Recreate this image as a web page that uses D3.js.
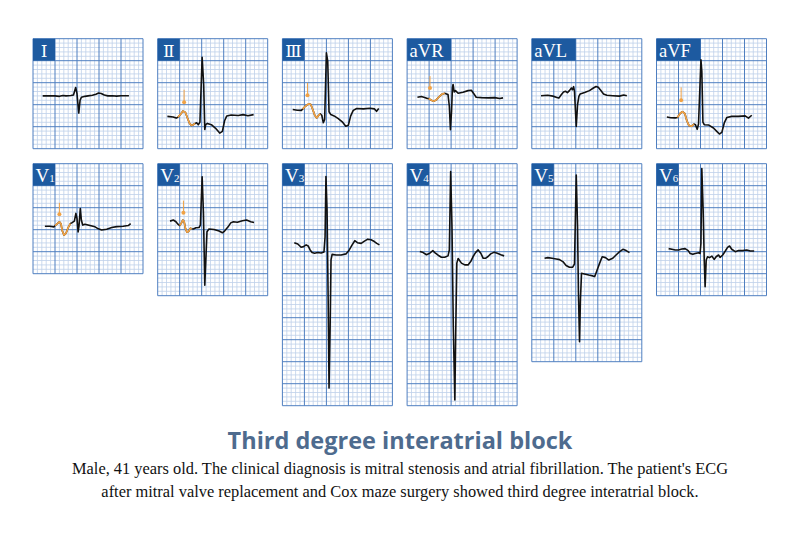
<!DOCTYPE html>
<html><head><meta charset="utf-8">
<script src="https://cdn.jsdelivr.net/npm/d3@7"></script>
<style>body{margin:0;background:#fff}svg{display:block}</style>
</head><body>
<svg id="c" width="800" height="534"></svg>
<script>
// ---- data (x: small grid boxes from panel left, y: amplitude in small boxes, up positive)
const leadNames = ["I","II","III","aVR","aVL","aVF","V1","V2","V3","V4","V5","V6"];
const panelRows = [5,5,5,5,5,5,5,6,11,11,9,6]; // major cells tall
const baselines = [13,17.65,16.1,13.3,12.95,17.8,14.2,13.2,20.2,21.1,23.4,20]; // small boxes from top

const leadI = [[2.2,0],[4,0.05],[5,0],[6,-0.1],[6.8,0.1],[7.5,0],[8.6,0.1],[9.2,0.2],[9.7,1.9],[10.0,0.5],[10.4,-3.9],[10.7,-1.0],[11.0,-0.3],[11.8,-0.1],[12.5,0],[13.5,0.15],[14.3,0.4],[14.9,0.65],[15.5,0.55],[16.2,0.2],[17.0,0],[18,0.05],[19,-0.05],[20,0.05],[21.8,0.05]];
const leadII = [[2.2,0],[3.5,-0.15],[4.2,-0.4],[4.6,-0.2],[5.2,0.5],[5.75,1.2],[6.3,0.9],[6.7,-0.2],[7.2,-1.5],[7.65,-2.05],[8.1,-1.9],[8.5,-1.6],[8.85,-1.45],[9.25,-1.9],[9.6,-1.3],[10.1,13.4],[10.45,7.2],[10.7,-3.0],[10.9,-1.9],[11.3,-1.6],[12.2,-1.9],[13.1,-2.65],[14.1,-3.8],[14.7,-3.4],[15.2,-1.0],[15.7,0.1],[16.7,0.3],[18.3,0.2],[19.4,0.4],[20.5,0.15],[21.8,0.4]];
const leadIII = [[2.35,0],[3.4,-0.15],[4.3,-0.2],[4.6,0.1],[5.2,0.75],[6.0,1.3],[6.45,1.15],[6.9,0],[7.35,-1.3],[7.8,-1.9],[8.25,-1.3],[8.6,-1.0],[8.95,-1.3],[9.3,-3.0],[9.6,-2.3],[10.0,12.9],[10.3,11.0],[10.6,-0.5],[11.0,-1.15],[11.75,-1.45],[12.7,-2.05],[13.6,-2.8],[14.4,-3.8],[15.0,-3.55],[15.5,-1.5],[16.1,-0.2],[16.9,0.25],[18.4,0.15],[19.9,0.3],[20.9,0.15],[21.4,-0.4],[21.9,0.25]];
const leadAVR = [[2.35,0],[3.25,0.15],[4.15,-0.1],[4.6,-0.3],[4.9,-0.3],[5.5,-0.7],[6.05,-0.9],[6.65,-0.6],[7.25,0.1],[7.95,0.7],[8.55,0.9],[8.95,0.75],[9.3,0.6],[9.6,-2.05],[9.85,-7.4],[10.1,-3.2],[10.3,2.1],[10.45,2.9],[10.7,1.2],[11.0,1.5],[11.6,0.9],[12.7,1.15],[13.85,1.5],[14.6,1.6],[15.2,0.75],[15.7,0],[16.9,-0.1],[18.4,-0.15],[19.9,-0.1],[21.05,-0.3],[21.8,-0.15]];
const leadAVL = [[2.1,0],[3.6,0.1],[4.8,-0.1],[5.7,-0.4],[6.15,-0.55],[6.65,0.15],[7.2,0.85],[7.65,1.0],[8.1,0.7],[8.55,1.15],[9.0,1.75],[9.25,1.35],[9.5,2.05],[9.7,1.0],[10.1,-7.0],[10.4,-2.05],[10.7,-0.15],[11.0,0.4],[12.0,0.7],[13.1,1.15],[14.0,1.75],[14.6,2.1],[15.1,1.9],[15.7,1.15],[16.3,0.4],[17.05,0.1],[18.4,0],[19.9,-0.1],[20.9,0.15],[21.6,0]];
const leadAVF = [[2.35,0],[3.25,-0.15],[4.25,-0.2],[4.75,-0.1],[5.4,0.85],[5.9,1.2],[6.45,0.75],[6.9,-0.85],[7.4,-1.95],[8.05,-2.05],[8.5,-1.6],[8.85,-1.75],[9.25,-2.8],[9.55,-1.6],[10.1,13.0],[10.3,10.4],[10.55,-1.15],[10.85,-1.75],[11.8,-1.8],[12.95,-2.5],[13.7,-3.25],[14.3,-3.85],[14.85,-3.5],[15.4,-1.35],[16.0,-0.1],[17.1,0.15],[18.6,0.15],[20.15,0.25],[20.9,-0.25],[21.65,0.4]];
const leadV1 = [[2.7,0],[3.85,0],[4.75,-0.15],[5.0,0.1],[5.55,0.6],[6.0,1.0],[6.35,0.55],[6.65,-1.05],[7.05,-2.05],[7.5,-1.6],[8.05,-0.2],[8.5,0.6],[8.8,0.75],[9.4,1.15],[9.75,2.9],[10.0,1.75],[10.25,-1.3],[10.45,0],[10.75,4.0],[11.0,1.35],[11.3,0.25],[11.8,0.45],[12.95,0.15],[14.1,-0.15],[14.85,-0.6],[15.6,-0.85],[16.75,-0.7],[17.9,-0.3],[19.0,-0.1],[20.5,0],[21.65,0.15],[22.2,0.6]];
const leadV2 = [[2.8,0.15],[3.55,0.4],[4.15,0],[4.6,-0.55],[5.0,-0.85],[5.4,-0.25],[5.7,0.4],[6.0,0.1],[6.3,-1.5],[6.65,-2.35],[7.05,-2.2],[7.4,-1.5],[7.75,-1.6],[8.1,-1.65],[8.7,-1.35],[9.4,-1.3],[9.7,-0.75],[10.1,10.2],[10.4,1.9],[10.7,-14.4],[11.0,-7.2],[11.2,-2.25],[11.65,-1.65],[12.8,-1.75],[13.95,-2.1],[14.7,-2.5],[15.2,-2.1],[16.0,-1.15],[16.6,-0.25],[17.2,0],[18.1,-0.1],[19.25,0.25],[20.2,0.4],[21.15,0],[21.9,-0.15]];
const leadV3 = [[2.7,2.25],[3.5,1.95],[4.25,1.2],[4.8,1.35],[5.4,1.75],[5.85,1.5],[6.3,0.6],[6.75,0],[7.3,-0.15],[8.05,0],[8.8,-0.1],[9.45,0.15],[9.7,3.6],[9.9,17.3],[10.15,9.7],[10.4,-10.75],[10.6,-30.8],[10.85,-16.8],[11.05,-1.65],[11.3,-0.4],[12.2,-0.55],[13.35,-0.55],[14.45,-0.3],[15.2,0.6],[15.85,1.75],[16.45,2.7],[17.05,2.25],[17.9,2.1],[18.65,2.6],[19.4,3.05],[20.15,2.9],[20.9,2.5],[21.45,2.1],[22.05,1.75]];
const leadV4 = [[2.9,1.15],[3.65,0.9],[4.4,0.4],[5.15,0.75],[5.85,1.35],[6.3,0.9],[7.05,0.3],[7.8,-0.15],[8.55,-0.15],[9.3,0.15],[9.6,1.5],[9.9,19.3],[10.2,6.8],[10.5,-15.9],[10.85,-32.6],[11.05,-17.4],[11.3,-1.5],[11.6,-0.45],[12.35,-1.5],[13.1,-1.9],[13.85,-1.9],[14.45,-1.15],[15.0,0],[15.55,0.9],[16.15,1.5],[16.75,0.75],[17.3,-0.4],[17.8,-0.4],[18.4,0],[19.0,0.6],[19.8,1.0],[20.5,0.75],[21.3,0.4],[22.05,0.15]];
const leadV5 = [[2.9,1.9],[3.65,2.05],[4.6,1.9],[5.55,1.75],[6.3,1.6],[7.05,1.15],[7.8,0.25],[8.55,-0.15],[9.3,-0.1],[9.7,0.6],[10.1,20.8],[10.4,9.1],[10.6,-6.05],[10.85,-17.05],[11.05,-7.6],[11.3,-1.5],[11.95,-1.65],[12.95,-1.9],[13.85,-2.1],[14.3,-2.25],[14.85,-0.75],[15.4,0.75],[16.0,2.25],[16.75,2.05],[17.5,1.5],[18.4,1.9],[19.15,2.65],[19.9,3.35],[20.7,3.95],[21.45,3.65],[22.2,3.2]];
const leadV6 = [[2.75,0.7],[3.5,0.55],[4.25,0.4],[5.0,0.4],[5.75,0.6],[6.5,0.7],[7.2,0.25],[7.65,-0.4],[8.25,-0.6],[8.8,-0.4],[9.55,-0.25],[9.9,-0.4],[10.1,1.9],[10.3,18.9],[10.6,9.5],[10.85,-1.9],[11.05,-7.95],[11.3,-1.9],[11.6,-1.15],[12.05,-1.35],[12.6,-1.0],[13.1,-1.75],[13.55,-1.15],[14.1,-0.75],[14.45,-1.3],[15.05,-0.75],[15.6,0.1],[16.15,1.0],[16.6,1.3],[17.1,0.55],[17.9,0],[18.65,0.25],[19.6,0.25],[20.5,0.4],[21.3,0.15],[22.2,0.15]];
const traces = [leadI,leadII,leadIII,leadAVR,leadAVL,leadAVF,leadV1,leadV2,leadV3,leadV4,leadV5,leadV6];

// P wave (highlighted) x-ranges, null = none
const pWaveRange = [null,[4.6,8.5],[4.6,8.6],[4.9,8.55],null,[4.75,8.5],[5.0,8.5],[5.0,7.75],null,null,null,null];
// arrow markers: x, top amplitude, tip amplitude
const arrowX   = [null,6.0,5.7,5.2,null,5.6,6.0,5.85,null,null,null,null];
const arrowTop = [null,6.06,6.06,4.8,null,6.75,5.3,4.8,null,null,null,null];
const arrowTip = [null,3.2,3.26,2.1,null,3.8,2.7,2.05,null,null,null,null];

const title = "Third degree interatrial block";
const captionLines = ["Male, 41 years old. The clinical diagnosis is mitral stenosis and atrial fibrillation. The patient's ECG",
  "after mitral valve replacement and Cox maze surgery showed third degree interatrial block."];

// ---- layout
const svg = d3.select("#c");
const MAJ = 22, MIN = 4.4, COLS = 25;
const x0 = 33, dx = 124.7, rowTop = [38.7, 163.7];
const minorCol = "#bfd0ea", majorCol = "#4f7fc0", boxCol = "#1d5aa0", orange = "#f0a245";

leadNames.forEach((name, i) => {
  const col = i % 6, row = Math.floor(i / 6);
  const left = x0 + col * dx, top = rowTop[row];
  const nMin = panelRows[i] * 5;
  const x = d3.scaleLinear().domain([0, COLS]).range([left, left + COLS * MIN]);
  const y = d3.scaleLinear().domain([baselines[i] - nMin, baselines[i]]).range([top + nMin * MIN, top]);
  const g = svg.append("g");
  g.append("rect").attr("x", left).attr("y", top).attr("width", COLS*MIN).attr("height", nMin*MIN).attr("fill", "#fff");
  d3.range(0, COLS + 1).filter(k => k % 5).forEach(k => {
    g.append("line").attr("x1", x(k)).attr("x2", x(k)).attr("y1", top).attr("y2", top + nMin*MIN)
      .attr("stroke", minorCol).attr("stroke-width", 0.8);
  });
  d3.range(0, nMin + 1).filter(k => k % 5).forEach(k => {
    g.append("line").attr("x1", left).attr("x2", left + COLS*MIN).attr("y1", top + k*MIN).attr("y2", top + k*MIN)
      .attr("stroke", minorCol).attr("stroke-width", 0.8);
  });
  d3.range(0, COLS + 1, 5).forEach(k => {
    g.append("line").attr("x1", x(k)).attr("x2", x(k)).attr("y1", top).attr("y2", top + nMin*MIN)
      .attr("stroke", majorCol).attr("stroke-width", 1);
  });
  d3.range(0, nMin + 1, 5).forEach(k => {
    g.append("line").attr("x1", left).attr("x2", left + COLS*MIN).attr("y1", top + k*MIN).attr("y2", top + k*MIN)
      .attr("stroke", majorCol).attr("stroke-width", 1);
  });
  const wide = name.startsWith("a");
  g.append("rect").attr("x", left).attr("y", top).attr("width", wide ? 2*MAJ : MAJ).attr("height", MAJ).attr("fill", boxCol);
  const t = g.append("text").attr("fill", "#fff").attr("font-family", "'Liberation Serif','Times New Roman',serif")
    .attr("y", top + 18);
  if (name.startsWith("V")) {
    t.attr("x", left + 2.5);
    t.append("tspan").attr("font-size", 19).text("V");
    t.append("tspan").attr("font-size", 11).text(name.slice(1));
  } else if (wide) {
    t.attr("x", left + 2.5).attr("font-size", 18.5).text(name);
  } else {
    const roman = {I: "Ⅰ", II: "Ⅱ", III: "Ⅲ"}[name];
    t.attr("x", left + MAJ/2).attr("text-anchor", "middle").attr("font-size", 17)
      .attr("font-family", "'DejaVu Serif',serif").text(roman);
  }
  const line = d3.line().x(d => x(d[0])).y(d => y(d[1]));
  g.append("path").attr("d", line(traces[i])).attr("fill", "none").attr("stroke", "#111")
    .attr("stroke-width", 1.6).attr("stroke-linejoin", "round");
  if (pWaveRange[i]) {
    const r = pWaveRange[i];
    const seg = traces[i].filter(d => d[0] >= r[0] - 1e-6 && d[0] <= r[1] + 1e-6);
    g.append("path").attr("d", line(seg)).attr("fill", "none").attr("stroke", orange)
      .attr("stroke-width", 1.7).attr("stroke-linejoin", "round");
  }
  if (arrowX[i] != null) {
    g.append("line").attr("x1", x(arrowX[i])).attr("x2", x(arrowX[i]))
      .attr("y1", y(arrowTop[i])).attr("y2", y(arrowTip[i])).attr("stroke", orange).attr("stroke-width", 1);
    g.append("circle").attr("cx", x(arrowX[i])).attr("cy", y(arrowTip[i])).attr("r", 2).attr("fill", orange);
  }
});

svg.append("text").attr("x", 400).attr("y", 449).attr("text-anchor", "middle")
  .attr("font-family", "'Open Sans','Noto Sans',sans-serif").attr("font-weight", 700).attr("font-size", 23.5)
  .attr("fill", "#4e6b8e").text(title);
captionLines.forEach((s, k) => {
  svg.append("text").attr("x", 400).attr("y", 474 + k * 23).attr("text-anchor", "middle")
    .attr("font-family", "'Liberation Serif','Times New Roman',serif").attr("font-size", 16.4)
    .attr("fill", "#111").text(s);
});
</script>
</body></html>
